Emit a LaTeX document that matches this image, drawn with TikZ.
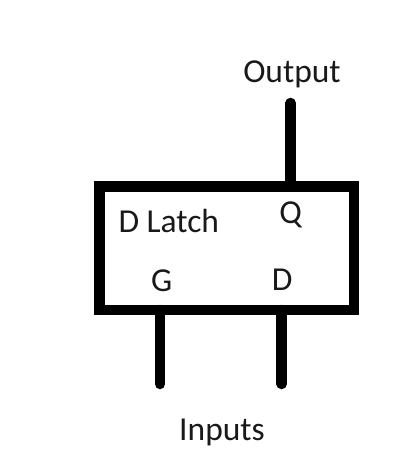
\documentclass[tikz,border=0pt]{standalone}
\usepackage{fontspec}
\setmainfont{Carlito}
\begin{document}
\begin{tikzpicture}[x=1pt,y=-1pt,
  lbl/.style={inner sep=0pt, outer sep=0pt, font=\fontsize{33.5}{38}\selectfont, text=black!90},
  wire/.style={line width=10.5pt, line cap=round},
  latchbox/.style={draw, line width=10.5pt, minimum width=254.5pt, minimum height=123.5pt, inner sep=0pt, outer sep=0pt}]
\useasboundingbox[fill=white] (0,0) rectangle (402,473);
\node[latchbox] (latch) at (226.75,248.25) {};
\coordinate (qend) at (290.7,103);
\coordinate (gend) at (160,384);
\coordinate (dend) at (281.7,384);
\draw[wire] (latch.north -| qend) -- (qend);
\draw[wire] (latch.south -| gend) -- (gend);
\draw[wire] (latch.south -| dend) -- (dend);
\node[lbl, anchor=base] (out) at (292,83) {Output};
\node[lbl, anchor=base west] (name) at (118.5,232.7) {D Latch};
\node[lbl, anchor=base] (q) at (290.7,223) {Q};
\node[lbl, anchor=base] (g) at (161.7,291.7) {G};
\node[lbl, anchor=base] (d) at (282.3,290) {D};
\node[lbl, anchor=base] (in) at (222,440) {Inputs};
\end{tikzpicture}
\end{document}
